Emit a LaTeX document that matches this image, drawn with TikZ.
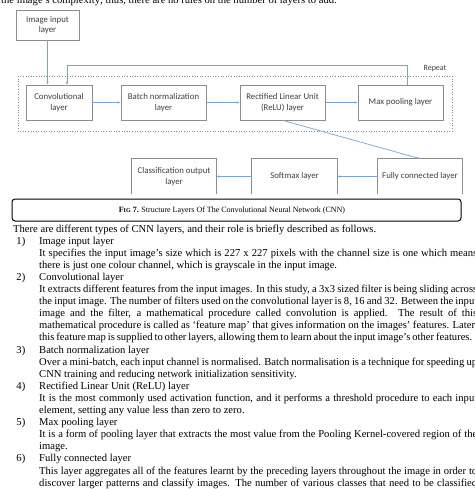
\documentclass[tikz,border=0pt]{standalone}
\usepackage{fontspec}
\setmainfont{Liberation Serif}
\newfontfamily\boxfont{Carlito}
\usetikzlibrary{positioning,arrows.meta}

\definecolor{boxgray}{HTML}{8C8C8C}
\definecolor{boxtext}{HTML}{404040}
\definecolor{flowblue}{HTML}{7BA3CC}

\newcommand{\fullline}[1]{\makebox[438pt][s]{#1}}

\begin{document}
\begin{tikzpicture}[
				x=1pt, y=-1pt,
				every node/.style={inner sep=0pt},
				layer/.style={
					draw=boxgray,
					line width=0.6pt,
					fill=white,
					align=center,
					text=boxtext,
					font=\boxfont\fontsize{8.8}{10.5}\selectfont,
					minimum width=85pt,
					minimum height=35pt
				},
				openlayer/.style={layer, draw=none},
				link/.style={flowblue, line width=0.7pt, -{Latex[length=3pt,width=2.4pt]}},
				body/.style={anchor=base west, font=\fontsize{10.6}{12}\selectfont},
				num/.style={anchor=base east, font=\fontsize{10.6}{12}\selectfont}
				]
				\useasboundingbox (0,0) rectangle (474,489);
				\clip (0,0) rectangle (474,489);
				
				% Text above the figure
				\node[body] (t0) at (1,4) {the image's complexity; thus, there are no rules on the number of layers to add.};
				
				% Layers of the repeated block
				\node[layer, minimum width=63pt, minimum height=30pt] (input) at (47.5,25) {Image input\\layer};
				\node[layer, minimum width=66pt] (conv) at (59,102.5) {Convolutional\\layer};
				\node[layer] (batch) at (163.5,102.5) {Batch normalization\\layer};
				\node[layer] (relu) at (282.5,102.5) {Rectified Linear Unit\\(ReLU) layer};
				\node[layer] (pool) at (400.5,102.5) {Max pooling layer};
				
				% Repeat frame
				\draw[boxgray, dotted, line width=0.6pt] (18,76) rectangle (452,131);
				\node[font=\boxfont\fontsize{8}{9}\selectfont, text=boxtext] (repeat) at (435,69) {Repeat};
				\coordinate (loopout) at (407,85);
				\coordinate (loopin) at (67,85);
				
				% Output layers
				\node[openlayer, minimum width=84pt] (cls) at (174,176.5) {Classification output\\layer};
				\node[openlayer] (soft) at (294.5,176.5) {Softmax layer};
				\node[openlayer, minimum width=84pt] (fc) at (420,176.5) {Fully connected layer};
				\foreach \n in {cls,soft,fc}
				\draw[boxgray, line width=0.6pt] (\n.south west) |- (\n.north east) -- (\n.south east);
				
				% Connections
				\draw[link] (input.south) -- (input.south |- conv.north);
				\draw[link] (conv) -- (batch);
				\draw[link] (batch) -- (relu);
				\draw[link] (relu) -- (pool);
				\draw[link] (loopout) -- ++(0,-20) -| (loopin);
				\draw[link] (relu.south) -- (fc.north);
				\draw[link] (fc) -- (soft);
				\draw[link] (soft) -- (cls);
				
				% Caption
				\node[draw, line width=1pt, rounded corners=3pt, fill=white,
					minimum width=449pt, minimum height=22pt] (capbox) at (236.5,210) {};
				\node[font=\fontsize{8}{9}\selectfont] (caption) at (232,210.5)
				{\textbf{F{\fontsize{6}{7}\selectfont IG} 7.} Structure Layers Of The Convolutional Neural Network (CNN)};
				
				% Body text
				\node[body] (t1) at (13,232) {There are different types of CNN layers, and their role is briefly described as follows.};
				\node[num] (n1) at (25.5,244.1) {1)};
				\node[body] (t2) at (39,244.1) {Image input layer};
				\node[body] (t3) at (39,256.2) {\fullline{It specifies the input image's size which is 227 x 227 pixels with the channel size is one which means}};
				\node[body] (t4) at (39,268.3) {there is just one colour channel, which is grayscale in the input image.};
				\node[num] (n2) at (25.5,280.4) {2)};
				\node[body] (t5) at (39,280.4) {Convolutional layer};
				\node[body] (t6) at (39,292.5) {\fullline{It extracts different features from the input images. In this study, a 3x3 sized filter is being sliding across}};
				\node[body] (t7) at (39,304.6) {\fullline{the input image. The number of filters used on the convolutional layer is 8, 16 and 32. Between the input}};
				\node[body] (t8) at (39,316.7) {\fullline{image and the filter, a mathematical procedure called convolution is applied. The result of this}};
				\node[body] (t9) at (39,328.8) {\fullline{mathematical procedure is called as ‘feature map’ that gives information on the images’ features. Later,}};
				\node[body] (t10) at (39,340.9) {\makebox[433pt][s]{this feature map is supplied to other layers, allowing them to learn about the input image’s other features.}};
				\node[num] (n3) at (25.5,353) {3)};
				\node[body] (t11) at (39,353) {Batch normalization layer};
				\node[body] (t12) at (39,365.1) {\fullline{Over a mini-batch, each input channel is normalised. Batch normalisation is a technique for speeding up}};
				\node[body] (t13) at (39,377.2) {CNN training and reducing network initialization sensitivity.};
				\node[num] (n4) at (25.5,389.3) {4)};
				\node[body] (t14) at (39,389.3) {Rectified Linear Unit (ReLU) layer};
				\node[body] (t15) at (39,401.4) {\fullline{It is the most commonly used activation function, and it performs a threshold procedure to each input}};
				\node[body] (t16) at (39,413.5) {element, setting any value less than zero to zero.};
				\node[num] (n5) at (25.5,425.6) {5)};
				\node[body] (t17) at (39,425.6) {Max pooling layer};
				\node[body] (t18) at (39,437.7) {\fullline{It is a form of pooling layer that extracts the most value from the Pooling Kernel-covered region of the}};
				\node[body] (t19) at (39,449.8) {image.};
				\node[num] (n6) at (25.5,461.9) {6)};
				\node[body] (t20) at (39,461.9) {Fully connected layer};
				\node[body] (t21) at (39,474) {\fullline{This layer aggregates all of the features learnt by the preceding layers throughout the image in order to}};
				\node[body] (t22) at (39,486.1) {\fullline{discover larger patterns and classify images. The number of various classes that need to be classified}};
			\end{tikzpicture}
\end{document}
